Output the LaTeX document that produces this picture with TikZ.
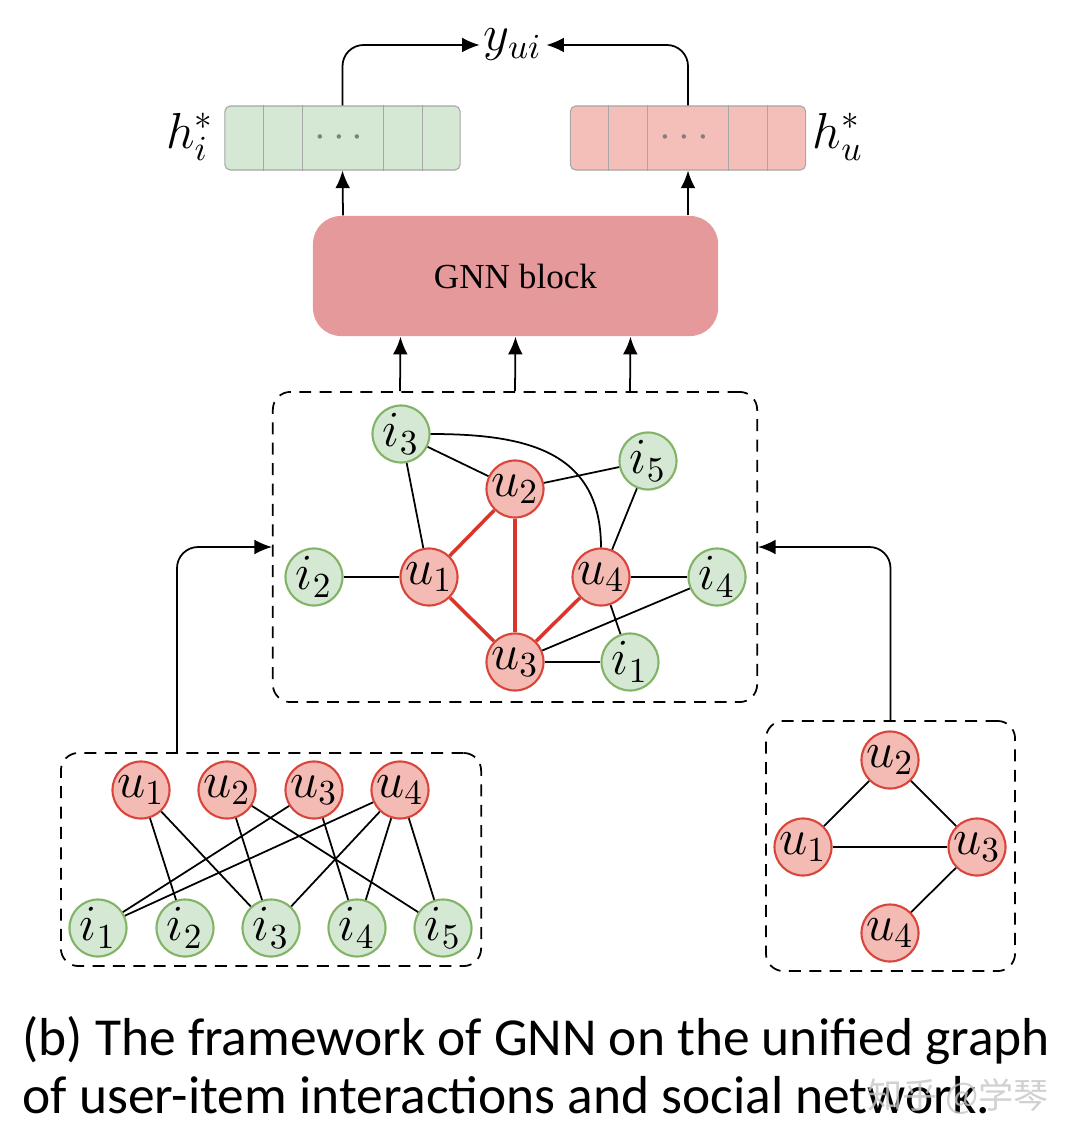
\documentclass[tikz,border=0pt]{standalone}
\usepackage{amsmath,amssymb}
\usepackage{fontspec}
\newfontfamily\capfont{Carlito}
\newfontfamily\blockfont{Liberation Serif}
\newfontfamily\cjkfont{Noto Sans CJK SC}
\usepackage{tikz}
\usetikzlibrary{arrows.meta,positioning,calc}

\definecolor{itemfill}{HTML}{D5E8D4}
\definecolor{itemline}{HTML}{82B366}
\definecolor{userfill}{HTML}{F4BBB5}
\definecolor{userline}{HTML}{D9453B}
\definecolor{edgered}{HTML}{D9352B}
\definecolor{blockfill}{HTML}{E6999B}
\definecolor{vecred}{HTML}{F4BFB8}

\begin{document}
\begin{tikzpicture}[x=0.01cm, y=-0.01cm,
    user/.style={circle, draw=userline, fill=userfill, line width=0.6pt, minimum size=0.57cm, inner sep=0pt, font=\fontsize{14}{16}\selectfont},
    item/.style={user, draw=itemline, fill=itemfill},
    link/.style={line width=0.5pt},
    redlink/.style={line width=1pt, draw=edgered},
    group/.style={draw, dash pattern=on 3.4pt off 2.4pt, rounded corners=5pt, line width=0.5pt, inner sep=0pt},
    flow/.style={-{Latex[length=5pt,width=4.2pt]}, line width=0.5pt, rounded corners=6pt},
    vec/.style={draw=gray!70, line width=0.3pt, rounded corners=1.5pt, minimum width=2.35cm, minimum height=0.64cm, inner sep=0pt},
    cellline/.style={draw=gray!70, line width=0.3pt}]
\useasboundingbox (0,0) rectangle (1070,1140);

% Output score and embeddings
\node (yui) [inner sep=1pt, font=\fontsize{14}{16}\selectfont] at (513,45) {$y_{ui}$};
\node (hi) [vec, fill=itemfill] at (342.5,138) {};
\node (hu) [vec, fill=vecred] at (688,138) {};
\foreach \d in {39,78,159,198} {
  \draw[cellline] ($(hi.north west)+(\d,0)$) -- ($(hi.south west)+(\d,0)$);
  \draw[cellline] ($(hu.north west)+(\d,0)$) -- ($(hu.south west)+(\d,0)$);
}
\node (hidots) [text=gray, font=\fontsize{12}{14}\selectfont] at (hi) {$\cdots$};
\node (hudots) [text=gray, font=\fontsize{12}{14}\selectfont] at (hu) {$\cdots$};
\node (hilabel) [font=\fontsize{14}{16}\selectfont] at (190,137) {$h_i^*$};
\node (hulabel) [font=\fontsize{14}{16}\selectfont] at (838,137) {$h_u^*$};
\draw[flow] (hi.north) |- (yui.west);
\draw[flow] (hu.north) |- (yui.east);

% GNN block
\node (gnn) [fill=blockfill, rounded corners=8pt, minimum width=4.05cm, minimum height=1.2cm,
  font=\blockfont\fontsize{10}{12}\selectfont] at (515.5,276) {GNN block};
\draw[flow] ($(gnn.north)+(-172.5,0)$) -- (hi.south);
\draw[flow] ($(gnn.north)+(172.5,0)$) -- (hu.south);

% Group boxes
\node (unified) [group, minimum width=4.84cm, minimum height=3.10cm] at (515,547) {};
\node (bipartite) [group, minimum width=4.20cm, minimum height=2.13cm] at (271,859.5) {};
\node (social) [group, minimum width=2.49cm, minimum height=2.50cm] at (890.5,846) {};
\foreach \dx in {-115,0,115}
  \draw[flow] ($(unified.north)+(\dx,0)$) -- ($(gnn.south)+(\dx,0)$);
\draw[flow] ($(bipartite.north west)+(117,0)$) |- (unified.west);
\draw[flow] (social.north) |- (unified.east);

% Unified graph
\node (ui3) [item] at (401,434) {$i_3$};
\node (uu2) [user] at (515,489) {$u_2$};
\node (ui5) [item] at (648,461) {$i_5$};
\node (ui2) [item] at (314,577) {$i_2$};
\node (uu1) [user] at (429,577) {$u_1$};
\node (uu4) [user] at (601,577) {$u_4$};
\node (ui4) [item] at (717,577) {$i_4$};
\node (uu3) [user] at (515,662) {$u_3$};
\node (ui1) [item] at (630,662) {$i_1$};
\foreach \a/\b in {ui3/uu1, ui3/uu2, uu2/ui5, ui5/uu4, ui2/uu1, uu4/ui4, uu4/ui1, uu3/ui4, uu3/ui1}
  \draw[link] (\a) -- (\b);
\draw[link] (ui3.east) to[out=0, in=90, looseness=1.2] (uu4.north);
\foreach \a/\b in {uu1/uu2, uu1/uu3, uu2/uu3, uu3/uu4}
  \draw[redlink] (\a) -- (\b);

% User-item interactions
\node (bu1) [user] at (141,790) {$u_1$};
\node (bu2) [user] at (227,790) {$u_2$};
\node (bu3) [user] at (314,790) {$u_3$};
\node (bu4) [user] at (400,790) {$u_4$};
\node (bi1) [item] at (98,928) {$i_1$};
\node (bi2) [item] at (185,928) {$i_2$};
\node (bi3) [item] at (271,928) {$i_3$};
\node (bi4) [item] at (357,928) {$i_4$};
\node (bi5) [item] at (443,928) {$i_5$};
\foreach \a/\b in {bu1/bi2, bu1/bi3, bu2/bi3, bu2/bi5, bu3/bi1, bu3/bi4, bu4/bi1, bu4/bi3, bu4/bi4, bu4/bi5}
  \draw[link] (\a) -- (\b);

% Social network
\node (su2) [user] at (890,760) {$u_2$};
\node (su1) [user] at (803,847) {$u_1$};
\node (su3) [user] at (977,847) {$u_3$};
\node (su4) [user] at (890,933) {$u_4$};
\foreach \a/\b in {su1/su2, su2/su3, su1/su3, su3/su4}
  \draw[link] (\a) -- (\b);

% Caption
\node (cap1) [anchor=base west, inner sep=0pt, font=\capfont\fontsize{15.2}{18}\selectfont] at (22,1055)
  {(b) The framework of GNN on the unified graph};
\node (cap2) [anchor=base west, inner sep=0pt, font=\capfont\fontsize{15.2}{18}\selectfont] at (22,1113)
  {of user-item interactions and social network.};
\node (mark) [text=gray!45, opacity=0.8, font=\cjkfont\fontsize{10}{12}\selectfont] at (958,1097) {知乎 @学琴};
\end{tikzpicture}
\end{document}
